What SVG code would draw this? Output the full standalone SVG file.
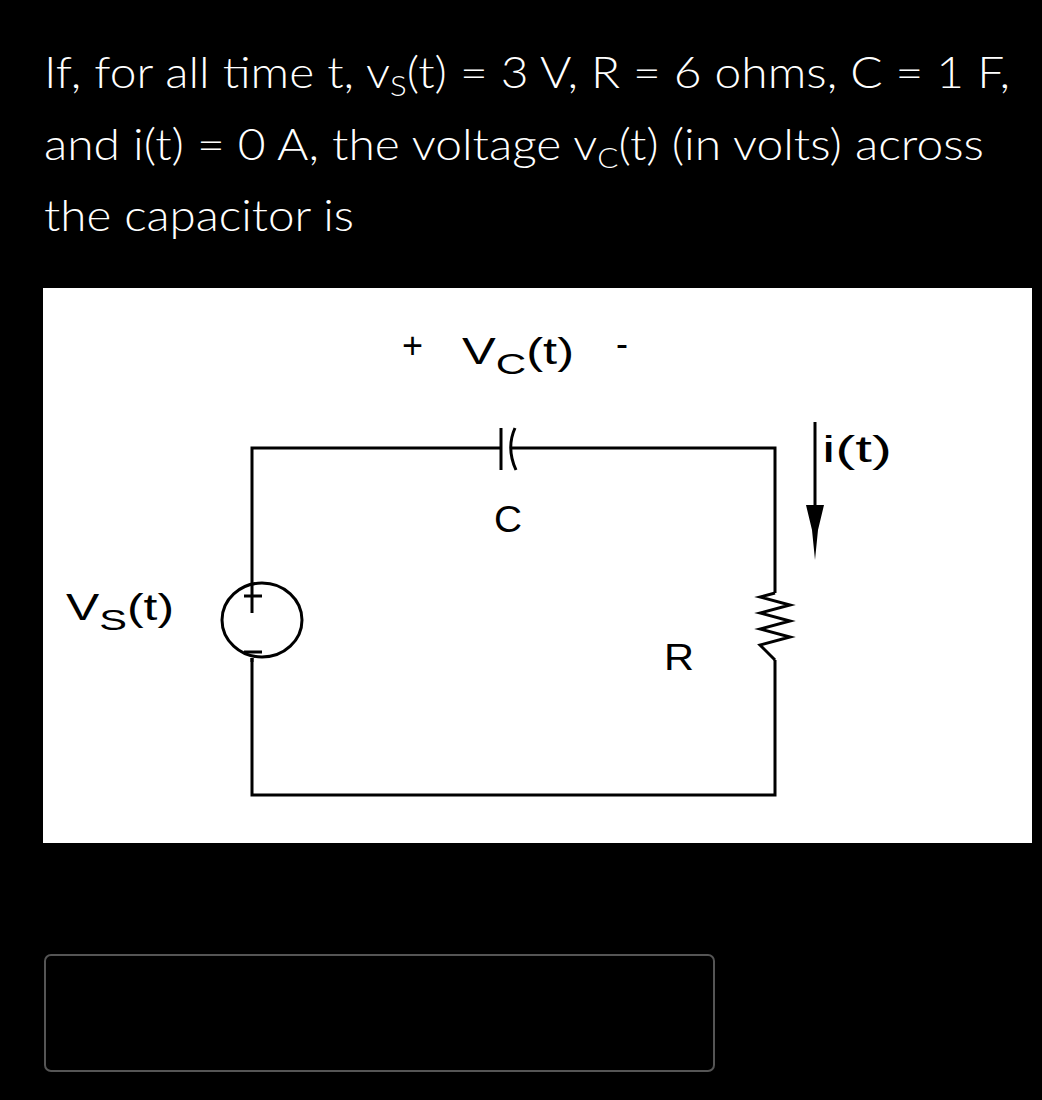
<svg xmlns="http://www.w3.org/2000/svg" width="1042" height="1100" viewBox="0 0 1042 1100">
<style>
.q{font-family:Lato,"Liberation Sans",sans-serif;font-size:43px;font-weight:300;fill:#fff}
.w{stroke:#000;stroke-width:3;fill:none}
.l{font-family:"Liberation Sans",sans-serif;font-size:36px;fill:#000}
</style>
<rect width="1042" height="1100" fill="#000"/>
<g id="question">
<text class="q" x="44" y="88" textLength="966" lengthAdjust="spacingAndGlyphs">If, for all time t, v<tspan font-size="28" dy="8">S</tspan><tspan dy="-8">(t) = 3 V, R = 6 ohms, C = 1 F,</tspan></text>
<text class="q" x="44" y="160" textLength="940" lengthAdjust="spacingAndGlyphs">and i(t) = 0 A, the voltage v<tspan font-size="28" dy="8">C</tspan><tspan dy="-8">(t) (in volts) across</tspan></text>
<text class="q" x="44" y="231" textLength="310" lengthAdjust="spacingAndGlyphs">the capacitor is</text>
</g>
<rect x="43" y="288" width="989" height="555" fill="#fff"/>
<g id="connectors">
<path class="w" d="M501 448 H252 V583 M252 658 V795 H775 V660 M511 448 H775 V593"/>
</g>
<g id="capacitor">
<line class="w" x1="501" y1="428" x2="501" y2="470"/>
<path class="w" d="M515 428 Q506 448 516 470"/>
<text class="l" x="494" y="532" textLength="28" lengthAdjust="spacingAndGlyphs">C</text>
<text class="l" x="402" y="358" font-size="28">+</text>
<text class="l" x="462" y="364" textLength="112" lengthAdjust="spacingAndGlyphs">V<tspan font-size="30" dy="10">C</tspan><tspan dy="-10">(t)</tspan></text>
<text class="l" x="616" y="356">-</text>
</g>
<g id="source">
<ellipse class="w" cx="262" cy="620" rx="40" ry="37"/>
<path class="w" d="M252 583 V613 M244 596 H262 M244 652 H262 M252 658 V662"/>
<text class="l" x="66" y="620" textLength="108" lengthAdjust="spacingAndGlyphs">V<tspan font-size="30" dy="10">S</tspan><tspan dy="-10">(t)</tspan></text>
</g>
<g id="resistor">
<path class="w" d="M775 593 L760 597 L790 605 L760 613 L790 621 L760 629 L790 637 L760 645 L775 660"/>
<text class="l" x="664" y="670" font-size="40" textLength="30" lengthAdjust="spacingAndGlyphs">R</text>
</g>
<g id="current">
<line class="w" x1="815" y1="422" x2="815" y2="520"/>
<path d="M806 505 H824 L818 530 L815 560 L812 530 Z" fill="#000"/>
<text class="l" x="822" y="462" textLength="70" lengthAdjust="spacingAndGlyphs">i(t)</text>
</g>
<rect id="answer" x="45" y="955" width="669" height="116" rx="6" fill="#000" stroke="#555" stroke-width="2"/>
</svg>
